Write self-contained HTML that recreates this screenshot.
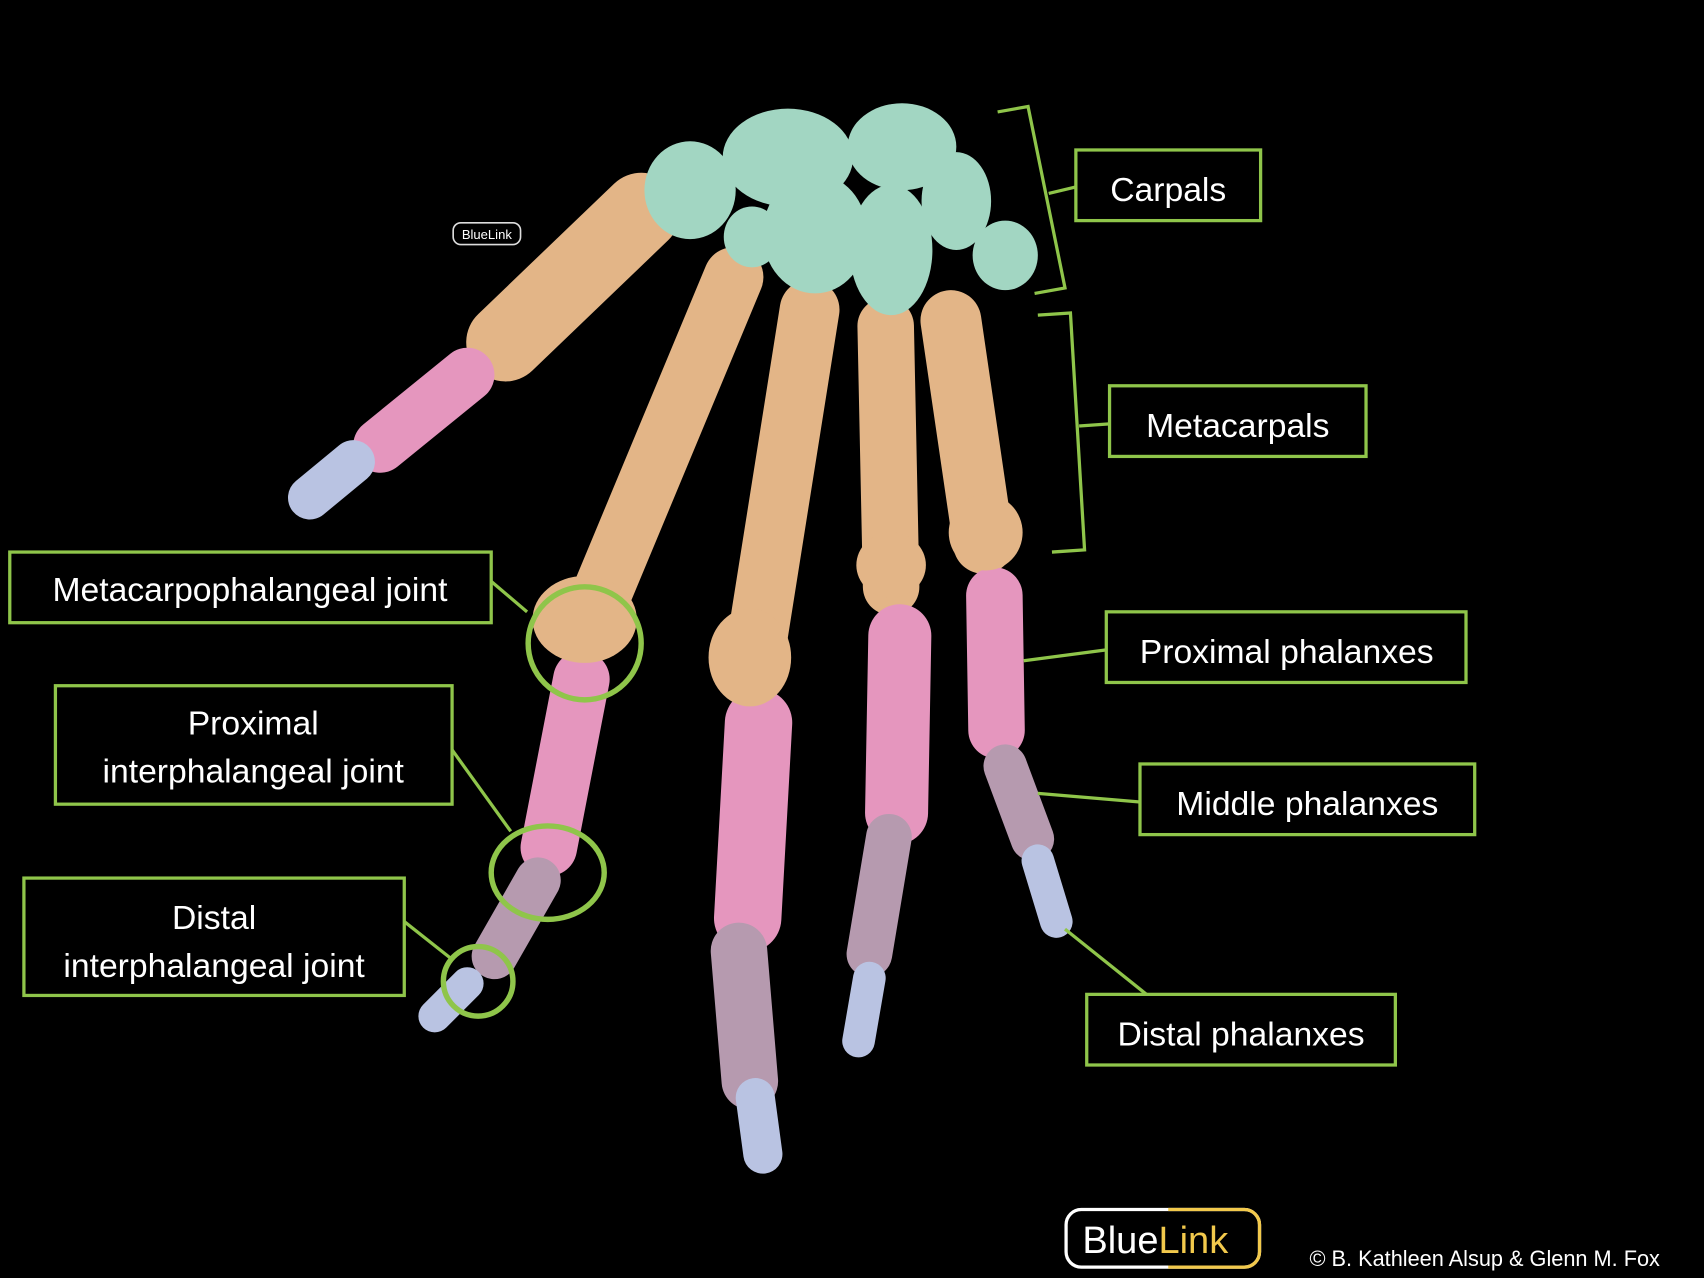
<!DOCTYPE html>
<html><head><meta charset="utf-8"><style>
html,body{margin:0;padding:0;background:#000;width:1704px;height:1278px;overflow:hidden}
svg{display:block}
text{font-family:"Liberation Sans",sans-serif;fill:#fff}
</style></head><body>
<svg width="1704" height="1278" viewBox="0 0 1568 1176" preserveAspectRatio="none" xmlns="http://www.w3.org/2000/svg">
<rect width="1568" height="1176" fill="#000"/>
<g stroke-linecap="round" fill="none">
<!-- thumb -->
<line x1="590" y1="195" x2="465" y2="315" stroke="#e3b587" stroke-width="72"/>
<line x1="430" y1="345" x2="350" y2="410" stroke="#e596be" stroke-width="50"/>
<line x1="325" y1="425" x2="285" y2="458" stroke="#b9c3e2" stroke-width="40"/>
<!-- index -->
<line x1="675" y1="255" x2="548" y2="560" stroke="#e3b587" stroke-width="55"/>
<line x1="535" y1="625" x2="505" y2="780" stroke="#e596be" stroke-width="52"/>
<line x1="495" y1="810" x2="455" y2="880" stroke="#b69aaf" stroke-width="42"/>
<line x1="430" y1="905" x2="400" y2="935" stroke="#b9c3e2" stroke-width="30"/>
<!-- middle -->
<line x1="745" y1="285" x2="695" y2="600" stroke="#e3b587" stroke-width="55"/>
<line x1="698" y1="665" x2="688" y2="845" stroke="#e596be" stroke-width="62"/>
<line x1="680" y1="875" x2="690" y2="995" stroke="#b69aaf" stroke-width="52"/>
<line x1="695" y1="1010" x2="702" y2="1062" stroke="#b9c3e2" stroke-width="36"/>
<!-- ring -->
<line x1="815" y1="300" x2="820" y2="540" stroke="#e3b587" stroke-width="52"/>
<line x1="828" y1="585" x2="825" y2="748" stroke="#e596be" stroke-width="58"/>
<line x1="818" y1="770" x2="800" y2="878" stroke="#b69aaf" stroke-width="42"/>
<line x1="800" y1="900" x2="790" y2="958" stroke="#b9c3e2" stroke-width="30"/>
<!-- little -->
<line x1="875" y1="295" x2="905" y2="500" stroke="#e3b587" stroke-width="56"/>
<line x1="915" y1="548" x2="917" y2="672" stroke="#e596be" stroke-width="52"/>
<line x1="925" y1="705" x2="950" y2="772" stroke="#b69aaf" stroke-width="40"/>
<line x1="955" y1="792" x2="972" y2="848" stroke="#b9c3e2" stroke-width="30"/>
</g>
<g fill="#e3b587">
<ellipse cx="538" cy="570" rx="48" ry="40"/>
<ellipse cx="690" cy="605" rx="38" ry="45"/>
<ellipse cx="820" cy="520" rx="32" ry="30"/>
<ellipse cx="907" cy="490" rx="34" ry="35"/>
</g>
<g fill="#a2d6c2">
<ellipse cx="635" cy="175" rx="42" ry="45"/>
<ellipse cx="725" cy="145" rx="60" ry="45"/>
<ellipse cx="830" cy="135" rx="50" ry="40"/>
<ellipse cx="750" cy="215" rx="48" ry="55"/>
<ellipse cx="820" cy="230" rx="38" ry="60"/>
<ellipse cx="880" cy="185" rx="32" ry="45"/>
<ellipse cx="925" cy="235" rx="30" ry="32"/>
<ellipse cx="692" cy="218" rx="26" ry="28"/>
</g>
<!-- labels -->
<g fill="none" stroke="#8fc54a" stroke-width="3">
<rect x="990" y="138" width="170" height="65"/>
<rect x="1021" y="355" width="236" height="65"/>
<rect x="9" y="508" width="443" height="65"/>
<rect x="51" y="631" width="365" height="109"/>
<rect x="22" y="808" width="350" height="108"/>
<rect x="1018" y="563" width="331" height="65"/>
<rect x="1049" y="703" width="308" height="65"/>
<rect x="1000" y="915" width="284" height="65"/>
<polyline points="918,103 946,98 980,265 952,270"/>
<line x1="965" y1="178" x2="990" y2="172"/>
<polyline points="955,290 985,288 998,506 968,508"/>
<line x1="993" y1="392" x2="1021" y2="390"/>
<line x1="452" y1="535" x2="485" y2="563"/>
<line x1="416" y1="690" x2="470" y2="765"/>
<line x1="372" y1="848" x2="415" y2="882"/>
<line x1="942" y1="608" x2="1018" y2="598"/>
<line x1="955" y1="730" x2="1049" y2="738"/>
<line x1="980" y1="855" x2="1055" y2="915"/>
<circle cx="538" cy="592" r="52" stroke-width="5"/>
<ellipse cx="504" cy="803" rx="52" ry="43" stroke-width="5"/>
<circle cx="440" cy="903" r="32" stroke-width="5"/>
</g>
<g font-size="31" text-anchor="middle">
<text x="1075" y="185">Carpals</text>
<text x="1139" y="402">Metacarpals</text>
<text x="230" y="553">Metacarpophalangeal joint</text>
<text x="233" y="676">Proximal</text>
<text x="233" y="720">interphalangeal joint</text>
<text x="197" y="855">Distal</text>
<text x="197" y="899">interphalangeal joint</text>
<text x="1184" y="610">Proximal phalanxes</text>
<text x="1203" y="750">Middle phalanxes</text>
<text x="1142" y="962">Distal phalanxes</text>
</g>
<rect x="417" y="205" width="62" height="20" rx="7" fill="none" stroke="#ddd" stroke-width="1.5"/>
<text x="448" y="220" font-size="12" text-anchor="middle">BlueLink</text>
<rect x="981" y="1113" width="178" height="53" rx="14" fill="none" stroke="#fff" stroke-width="3"/>
<path d="M1075 1113 H1145 a14 14 0 0 1 14 14 V1152 a14 14 0 0 1 -14 14 H1075" fill="none" stroke="#f2c94c" stroke-width="3"/>
<text x="996" y="1153" font-size="35">Blue<tspan fill="#f2c94c">Link</tspan></text>
<text x="1205" y="1165" font-size="20">© B. Kathleen Alsup &amp; Glenn M. Fox</text>
</svg>
</body></html>
